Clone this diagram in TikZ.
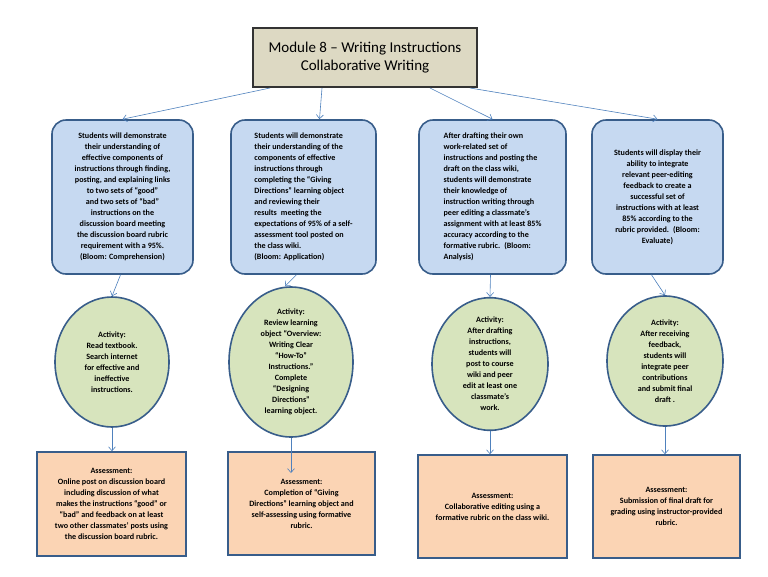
\documentclass[tikz,border=0pt]{standalone}
\usepackage{fontspec}
\setmainfont{Carlito}
\usetikzlibrary{shapes.geometric,arrows.meta}
\definecolor{bfill}{HTML}{C6D9F1}
\definecolor{bline}{HTML}{385D8A}
\definecolor{gfill}{HTML}{D7E4BD}
\definecolor{ofill}{HTML}{FBD4B4}
\definecolor{tfill}{HTML}{DDD9C3}
\definecolor{arr}{HTML}{4F81BD}
\begin{document}
\begin{tikzpicture}[x=1pt,y=-1pt,
    every node/.style={font=\fontsize{8.1}{11}\selectfont\bfseries, inner sep=1pt},
    obj/.style={draw=bline, line width=1.6pt, fill=bfill, rounded corners=14pt},
    act/.style={ellipse, draw=bline, line width=1.6pt, fill=gfill, align=center},
    asm/.style={draw=bline, line width=1.6pt, fill=ofill, align=center},
    link/.style={draw=arr, line width=0.6pt, ->, >={Straight Barb[length=4pt,width=7pt]}}
  ]
\useasboundingbox (0,0) rectangle (768,576);
% title
\node[draw=black!80, line width=2pt, fill=tfill, minimum width=224pt, minimum height=59pt,
  align=center, font=\fontsize{15}{18}\selectfont] (t) at (365,57.5)
  {Module 8 -- Writing Instructions\\Collaborative Writing};
% objectives
\node[obj, minimum width=141pt, minimum height=154pt, align=center] (o1) at (122.5,197)
  {Students will demonstrate\\their understanding of\\effective components of\\instructions through finding,\\posting, and explaining links\\to two sets of ``good''\\and two sets of ``bad''\\instructions on the\\discussion board meeting\\the discussion board rubric\\requirement with a 95\%.\\(Bloom: Comprehension)};
\node[obj, minimum width=145pt, minimum height=154pt, align=left] (o2) at (303.5,197)
  {Students will demonstrate\\their understanding of the\\components of effective\\instructions through\\completing the ``Giving\\Directions'' learning object\\and reviewing their\\results\enspace meeting the\\expectations of 95\% of a self-\\assessment tool posted on\\the class wiki.\\(Bloom: Application)};
\node[obj, minimum width=147pt, minimum height=154pt, align=left] (o3) at (492.5,197)
  {After drafting their own\\work-related set of\\instructions and posting the\\draft on the class wiki,\\students will demonstrate\\their knowledge of\\instruction writing through\\peer editing a classmate's\\assignment with at least 85\%\\accuracy according to the\\formative rubric.\enspace(Bloom:\\Analysis)};
\node[obj, minimum width=131pt, minimum height=154pt, align=center] (o4) at (657.5,197)
  {Students will display their\\ability to integrate\\relevant peer-editing\\feedback to create a\\successful set of\\instructions with at least\\85\% according to the\\rubric provided.\enspace(Bloom:\\Evaluate)};
% activities
\node[act, minimum width=114pt, minimum height=130pt] (a1) at (112,362)
  {Activity:\\Read textbook.\\Search internet\\for effective and\\ineffective\\instructions.};
\node[act, minimum width=124pt, minimum height=130pt, inner sep=0pt] (a2) at (291,362)
  {Activity:\\Review learning\\object ``Overview:\\Writing Clear\\``How-To''\\Instructions.''\\Complete\\``Designing\\Directions''\\learning object.};
\node[act, minimum width=116pt, minimum height=132pt, inner sep=0pt] (a3) at (490,364)
  {Activity:\\After drafting\\instructions,\\students will\\post to course\\wiki and peer\\edit at least one\\classmate's\\work.};
\node[act, minimum width=116pt, minimum height=130pt, inner sep=0pt] (a4) at (665,361)
  {Activity:\\After receiving\\feedback,\\students will\\integrate peer\\contributions\\and submit final\\draft .};
% assessments
\node[asm, minimum width=149pt, minimum height=104pt] (s1) at (111.5,504)
  {Assessment:\\Online post on discussion board\\including discussion of what\\makes the instructions ``good'' or\\``bad'' and feedback on at least\\two other classmates' posts using\\the discussion board rubric.};
\node[asm, minimum width=147pt, minimum height=103pt] (s2) at (301.5,503.5)
  {Assessment:\\Completion of ``Giving\\Directions'' learning object and\\self-assessing using formative\\rubric.};
\node[asm, minimum width=149pt, minimum height=103pt] (s3) at (492.5,506.5)
  {Assessment:\\Collaborative editing using a\\formative rubric on the class wiki.};
\node[asm, minimum width=147pt, minimum height=103pt] (s4) at (666.5,506.5)
  {Assessment:\\Submission of final draft for\\grading using instructor-provided\\rubric.};
% connectors
\coordinate (t1) at (270,88);
\coordinate (t2) at (322,88);
\coordinate (t3) at (430,88);
\coordinate (t4) at (470,88);
\coordinate (e2) at (291,473);
\draw[link] (t1) -- (o1.north);
\draw[link] (t2) -- ([xshift=16pt]o2.north);
\draw[link] (t3) -- (o3.north);
\draw[link] (t4) -- (o4.north);
\draw[link] ([xshift=-2pt]o1.south) -- (a1.north);
\draw[link] ([xshift=-7pt]o2.south) -- ([xshift=-6pt]a2.north);
\draw[link] ([xshift=-2pt]o3.south) -- (a3.north);
\draw[link] ([xshift=-6pt]o4.south) -- (a4.north);
\draw[link] (a1.south) -- (a1.south |- s1.north);
\draw[link] (a2.south) -- (e2);
\draw[link] (a3.south) -- (a3.south |- s3.north);
\draw[link] (a4.south) -- (a4.south |- s4.north);
\end{tikzpicture}
\end{document}
